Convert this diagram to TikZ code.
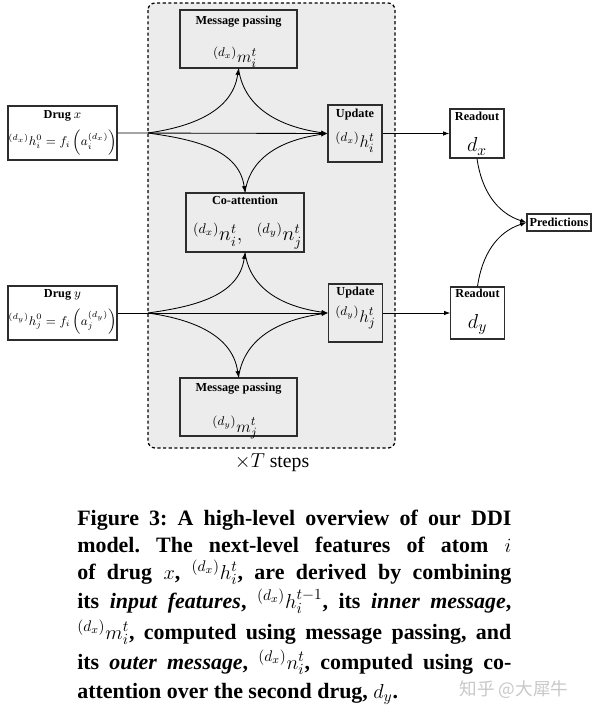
\documentclass[tikz,border=0pt]{standalone}
\usepackage{fontspec}
\setmainfont{Liberation Serif}
\newfontfamily\zhfont{Noto Sans CJK SC}
\usetikzlibrary{arrows.meta,calc,positioning}
\definecolor{PanelClr}{RGB}{236,236,236}
\definecolor{BoxClr}{RGB}{45,45,45}
\definecolor{MarkClr}{RGB}{200,200,200}
\frenchspacing

\tikzset{
  box/.style={draw=BoxClr,line width=0.8pt,inner sep=0pt},
  ttl/.style={anchor=base,inner sep=0pt,font=\fontsize{8.7}{10}\selectfont\bfseries},
  fml/.style={anchor=base,inner sep=0pt,font=\fontsize{13}{15}\selectfont},
  conn/.style={line width=0.6pt,-{Latex[length=4.5pt,width=3.2pt]}},
  capline/.style={anchor=base west,inner sep=0pt,font=\fontsize{15.6}{20}\selectfont\bfseries},
}

\begin{document}
\begin{tikzpicture}[x=0.025cm,y=0.025cm]
\useasboundingbox[fill=white] (0,0) rectangle (600,-714);

% Panel of the T repeated steps.
\draw[fill=PanelClr,dashed,dash pattern=on 2.2pt off 1.8pt,line width=0.9pt,rounded corners=5pt] (148,-3) rectangle (395,-448);
\node[anchor=base,inner sep=0pt,font=\fontsize{14}{16}\selectfont] (steps) at (272,-467) {$\times T$ steps};

% Boxes.
\node[box,fill=white,minimum width=2.725cm,minimum height=1.35cm] (drugx) at (62.5,-133) {};
\node[box,fill=white,minimum width=2.725cm,minimum height=1.35cm] (drugy) at (62.5,-313) {};
\node[box,minimum width=2.925cm,minimum height=1.45cm] (mpx) at (238.5,-39) {};
\node[box,minimum width=2.95cm,minimum height=1.475cm] (coatt) at (245,-222.5) {};
\node[box,minimum width=2.925cm,minimum height=1.45cm] (mpy) at (238.5,-407) {};
\node[box,minimum width=1.35cm,minimum height=1.425cm] (updx) at (355,-133.5) {};
\node[box,minimum width=1.35cm,minimum height=1.45cm] (updy) at (355.5,-313) {};
\node[box,fill=white,minimum width=1.35cm,minimum height=1.225cm] (rdx) at (477,-133.5) {};
\node[box,fill=white,minimum width=1.33cm,minimum height=1.3cm] (rdy) at (477.5,-313) {};
\node[box,fill=white,minimum width=1.6cm,minimum height=0.425cm,font=\fontsize{8.7}{10}\selectfont\bfseries] (pred) at (559,-222.5) {Predictions};

% Titles.
\node[ttl] (tdrugx) at (62.5,-119) {Drug $x$};
\node[ttl] (tdrugy) at (62.5,-298) {Drug $y$};
\node[ttl] (tmpx) at (238.5,-25) {Message passing};
\node[ttl] (tcoatt) at (245,-205) {Co-attention};
\node[ttl] (tmpy) at (238.5,-391) {Message passing};
\node[ttl] (tupdx) at (355,-118) {Update};
\node[ttl] (tupdy) at (355.5,-295) {Update};
\node[ttl] (trdx) at (477,-121) {Readout};
\node[ttl] (trdy) at (477.5,-298) {Readout};

% Formulas.
\node[fml,font=\fontsize{8.8}{11}\selectfont] (fdrugx) at (62.5,-146) {${}^{(d_x)}h_i^0 = f_i\left(a_i^{(d_x)}\right)$};
\node[fml,font=\fontsize{8.8}{11}\selectfont] (fdrugy) at (62.5,-325) {${}^{(d_y)}h_j^0 = f_i\left(a_j^{(d_y)}\right)$};
\node[fml] (fmpx) at (235,-63) {${}^{(d_x)}m_i^t$};
\node[fml,font=\fontsize{14}{16}\selectfont] (fcoatt) at (247.5,-241) {${}^{(d_x)}n_i^t,\;\; {}^{(d_y)}n_j^t$};
\node[fml] (fmpy) at (235,-432) {${}^{(d_y)}m_j^t$};
\node[fml] (fupdx) at (355,-148) {${}^{(d_x)}h_i^t$};
\node[fml] (fupdy) at (355.5,-322) {${}^{(d_y)}h_j^t$};
\node[fml,font=\fontsize{15}{17}\selectfont] (frdx) at (477,-152) {$d_x$};
\node[fml,font=\fontsize{15}{17}\selectfont] (frdy) at (477.5,-328) {$d_y$};

% Entry points on the panel border.
\coordinate (inx) at (148,-133);
\coordinate (iny) at (148,-313);

% Flows of drug x.
\draw[conn] (drugx.east) -- (updx.west);
\draw[conn] (inx) to[out=8,in=-98] (mpx.south);
\draw[conn] (mpx.south) to[out=-82,in=172] (updx.west);
\draw[conn] (inx) to[out=-8,in=98] (coatt.north);
\draw[conn] (coatt.north) to[out=82,in=188] (updx.west);

% Flows of drug y.
\draw[conn] (drugy.east) -- (updy.west);
\draw[conn] (iny) to[out=8,in=-98] (coatt.south);
\draw[conn] (coatt.south) to[out=-82,in=172] (updy.west);
\draw[conn] (iny) to[out=-8,in=98] (mpy.north);
\draw[conn] (mpy.north) to[out=82,in=188] (updy.west);

% Readout and predictions.
\draw[conn] (updx.east) -- (rdx.west);
\draw[conn] (updy.east) -- (rdy.west);
\draw[conn] (rdx.south) to[out=-82,in=162] (pred.west);
\draw[conn] (rdy.north) to[out=82,in=198] (pred.west);

% Caption.
\node[capline] (cap1) at (77,-525) {\makebox[10.85cm][s]{Figure 3: A high-level overview of our DDI}};
\node[capline] (cap2) at (77,-552) {\makebox[10.85cm][s]{model. The next-level features of atom $i$}};
\node[capline] (cap3) at (77,-579) {\makebox[10.85cm][s]{of drug $x$, ${}^{(d_x)}h_i^t$, are derived by combining}};
\node[capline] (cap4) at (77,-608) {\makebox[10.85cm][s]{its \textit{input features}, ${}^{(d_x)}h_i^{t-1}$, its \textit{inner message},}};
\node[capline] (cap5) at (77,-639) {\makebox[10.85cm][s]{${}^{(d_x)}m_i^t$, computed using message passing, and}};
\node[capline] (cap6) at (77,-669) {\makebox[10.85cm][s]{its \textit{outer message}, ${}^{(d_x)}n_i^t$, computed using co-}};
\node[capline] (cap7) at (77,-698) {attention over the second drug, $d_y$.};

\node[inner sep=0pt,text=MarkClr,font=\zhfont\fontsize{12.5}{14}\selectfont] (mark) at (514,-690) {知乎 @大犀牛};
\end{tikzpicture}
\end{document}
